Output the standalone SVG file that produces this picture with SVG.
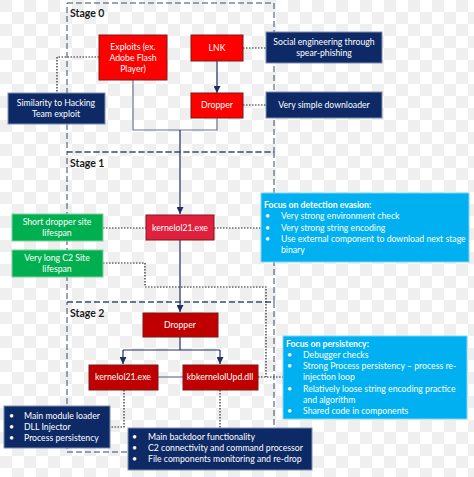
<svg xmlns="http://www.w3.org/2000/svg" width="474" height="477" viewBox="0 0 474 477">
<defs>
<pattern id="chk" width="24" height="24" patternUnits="userSpaceOnUse">
<rect width="24" height="24" fill="#ffffff"/>
<rect width="12" height="12" fill="#efefef"/>
<rect x="12" y="12" width="12" height="12" fill="#efefef"/>
</pattern>
<marker id="arr" viewBox="0 0 10 10" refX="10" refY="5" markerWidth="7" markerHeight="7" markerUnits="userSpaceOnUse" orient="auto">
<path d="M0,0 L10,5 L0,10 z" fill="#1f2f5f"/>
</marker>
<style>
text{font-family:Lato,"Open Sans","Liberation Sans",sans-serif;font-size:8.7px;fill:#ffffff}
.c{text-anchor:middle}
.stage{fill:none;stroke:#3b4a6b;stroke-width:1;stroke-dasharray:6 3}
.lbl{font-size:10.5px;font-weight:bold;fill:#1a1a1a}
.red{fill:#ff0000;stroke:#7a1a1a;stroke-width:1}
.crim{fill:#e0203c;stroke:#7a1a1a;stroke-width:1}
.dred{fill:#c00000;stroke:#7a1a1a;stroke-width:1}
.navy{fill:#0e2a66;stroke:#7f8fb0;stroke-width:1}
.green{fill:#00b050;stroke:#7fcfa0;stroke-width:1}
.cyan{fill:#00b0f0;stroke:#7fd6f5;stroke-width:1}
.sol{fill:none;stroke:#1f2f5f;stroke-width:1.2}
.grey{fill:none;stroke:#6d7396;stroke-width:1.2}
.dot{fill:none;stroke:#222222;stroke-width:1.2;stroke-dasharray:1.5 1.5}
.b{font-weight:bold}
</style>
</defs>
<rect width="474" height="477" fill="url(#chk)"/>
<g id="stages">
<rect class="stage" x="67" y="3" width="207" height="149"/>
<rect class="stage" x="67" y="152" width="207" height="150"/>
<rect class="stage" x="67" y="302" width="207" height="150"/>
<text class="lbl" x="70" y="17">Stage 0</text>
<text class="lbl" x="70" y="167">Stage 1</text>
<text class="lbl" x="70" y="317">Stage 2</text>
</g>
<g id="connectors">
<path class="grey" d="M133,80 V130 H217 V118"/>
<path class="sol" d="M180,130 V214" marker-end="url(#arr)"/>
<path class="sol" d="M217,61 V93" marker-end="url(#arr)"/>
<path class="sol" d="M180,240 V312" marker-end="url(#arr)"/>
<path class="sol" d="M180,337 V350"/>
<path class="sol" d="M123,350 H220"/>
<path class="sol" d="M123,350 V364" marker-end="url(#arr)"/>
<path class="sol" d="M220,350 V364" marker-end="url(#arr)"/>
<path class="grey" d="M158,377 H183"/>
<path class="dot" d="M99,57 H57 V93"/>
<path class="dot" d="M243,48 H266"/>
<path class="dot" d="M243,105 H266"/>
<path class="dot" d="M103,228 H146"/>
<path class="dot" d="M214,228 H261"/>
<path class="dot" d="M103,263 H145 V287 H266 V377"/>
<path class="dot" d="M258,377 H283"/>
<path class="dot" d="M124,390 V427 H110"/>
<path class="dot" d="M220,390 V428"/>
</g>
<g id="exploits">
<rect class="red" x="99" y="35" width="68" height="45"/>
<text class="c" x="133" y="50">Exploits (ex.</text>
<text class="c" x="133" y="61">Adobe Flash</text>
<text class="c" x="133" y="72">Player)</text>
</g>
<g id="lnk">
<rect class="red" x="191" y="35" width="52" height="26"/>
<text class="c" x="217" y="51">LNK</text>
</g>
<g id="dropper0">
<rect class="red" x="191" y="93" width="52" height="25"/>
<text class="c" x="217" y="108">Dropper</text>
</g>
<g id="social">
<rect class="navy" x="266" y="32" width="116" height="31"/>
<text class="c" x="324" y="45">Social engineering through</text>
<text class="c" x="324" y="56">spear-phishing</text>
</g>
<g id="downloader">
<rect class="navy" x="266" y="92" width="116" height="26"/>
<text class="c" x="324" y="108">Very simple downloader</text>
</g>
<g id="similarity">
<rect class="navy" x="8" y="93" width="97" height="31"/>
<text class="c" x="56" y="106">Similarity to Hacking</text>
<text class="c" x="56" y="117">Team exploit</text>
</g>
<g id="kernel1">
<rect class="crim" x="146" y="215" width="68" height="25"/>
<text class="c" x="180" y="231">kernelol21.exe</text>
</g>
<g id="shortdropper">
<rect class="green" x="12" y="214" width="91" height="27"/>
<text class="c" x="57" y="225">Short dropper site</text>
<text class="c" x="57" y="236">lifespan</text>
</g>
<g id="longc2">
<rect class="green" x="12" y="250" width="91" height="27"/>
<text class="c" x="57" y="261">Very long C2 Site</text>
<text class="c" x="57" y="272">lifespan</text>
</g>
<g id="evasion">
<rect class="cyan" x="261" y="193" width="208" height="69"/>
<text class="b" x="264" y="208">Focus on detection evasion:</text>
<text x="265" y="219">•</text><text x="281" y="219">Very strong environment check</text>
<text x="265" y="231">•</text><text x="281" y="231">Very strong string encoding</text>
<text x="265" y="242">•</text><text x="281" y="242">Use external component to download next stage</text>
<text x="281" y="253">binary</text>
</g>
<g id="dropper2">
<rect class="dred" x="143" y="313" width="75" height="24"/>
<text class="c" x="180" y="328">Dropper</text>
</g>
<g id="kernel2">
<rect class="dred" x="89" y="365" width="69" height="25"/>
<text class="c" x="123" y="380">kernelol21.exe</text>
</g>
<g id="kbkernel">
<rect class="dred" x="183" y="365" width="75" height="25"/>
<text class="c" x="220" y="380">kbkernelolUpd.dll</text>
</g>
<g id="persistency">
<rect class="cyan" x="283" y="336" width="184" height="83"/>
<text class="b" x="286" y="347">Focus on persistency:</text>
<text x="287" y="358">•</text><text x="303" y="358">Debugger checks</text>
<text x="287" y="369">•</text><text x="303" y="369">Strong Process persistency – process re-</text>
<text x="303" y="380">injection loop</text>
<text x="287" y="392">•</text><text x="303" y="392">Relatively loose string encoding practice</text>
<text x="303" y="403">and algorithm</text>
<text x="287" y="414">•</text><text x="303" y="414">Shared code in components</text>
</g>
<g id="loader">
<rect class="navy" x="4" y="406" width="106" height="42"/>
<text x="9" y="419">•</text><text x="24" y="419">Main module loader</text>
<text x="9" y="430">•</text><text x="24" y="430">DLL Injector</text>
<text x="9" y="441">•</text><text x="24" y="441">Process persistency</text>
</g>
<g id="backdoor">
<rect class="navy" x="128" y="428" width="184" height="42"/>
<text x="132" y="440">•</text><text x="148" y="440">Main backdoor functionality</text>
<text x="132" y="451">•</text><text x="148" y="451">C2 connectivity and command processor</text>
<text x="132" y="462">•</text><text x="148" y="462">File components monitoring and re-drop</text>
</g>
</svg>
